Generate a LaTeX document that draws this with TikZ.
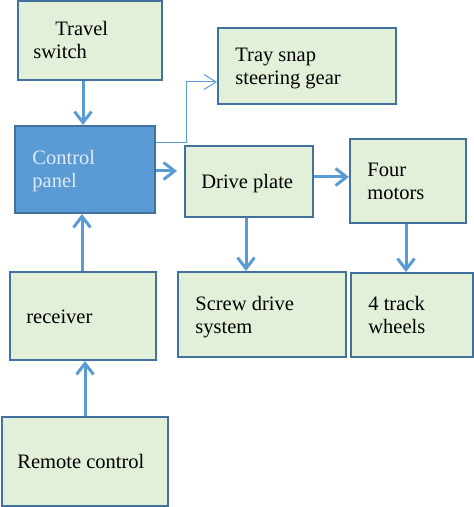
\documentclass[tikz,border=0pt]{standalone}
\usepackage{fontspec}
\setmainfont{Liberation Serif}
\usetikzlibrary{arrows.meta,calc}

\definecolor{boxfill}{HTML}{E2EFD9}
\definecolor{boxline}{HTML}{41719C}
\definecolor{panelfill}{HTML}{5B9BD5}
\definecolor{flowblue}{HTML}{5B9BD5}
\definecolor{paneltext}{HTML}{DEEBF7}

\tikzset{
  block/.style={draw=boxline, line width=1pt, fill=boxfill, inner sep=0pt},
  caption/.style={anchor=base west, align=left, inner sep=0pt,
    font=\fontsize{10.25}{11.5}\selectfont},
  flow/.style={draw=flowblue, line width=1.5pt,
    -{Straight Barb[length=5.5pt,width=8.5pt]}},
  thinflow/.style={draw=flowblue, line width=0.5pt,
    -{Straight Barb[length=6pt,width=7.5pt]}}
}

\begin{document}
\begin{tikzpicture}[x=0.5pt,y=-0.5pt]
            \useasboundingbox (0,0) rectangle (474,507);

            % boxes
            \node[block, minimum width=72pt, minimum height=39.5pt] (ts)   at (90,40.5)  {};
            \node[block, minimum width=89pt, minimum height=38pt]   (tray) at (307,66)   {};
            \node[block, fill=panelfill, minimum width=70pt, minimum height=43.5pt] (cp) at (85,169.5) {};
            \node[block, minimum width=64pt, minimum height=35.5pt] (dp)   at (249,181.5) {};
            \node[block, minimum width=58pt, minimum height=42pt]   (fm)   at (408,181)  {};
            \node[block, minimum width=84pt, minimum height=42.5pt] (sd)   at (262,314.5) {};
            \node[block, minimum width=61pt, minimum height=42pt]   (tw)   at (412,315)  {};
            \node[block, minimum width=73pt, minimum height=44pt]   (rc)   at (83,316)   {};
            \node[block, minimum width=83pt, minimum height=44.5pt] (rm)   at (85,461.5) {};

            % texts (base = last line)
            \node[caption] (ts-text)   at (33,59)   {\hspace{11pt}Travel\\switch};
            \node[caption] (tray-text) at (235,85)  {Tray snap\\steering gear};
            \node[caption, text=paneltext] (cp-text) at (32,188) {Control\\panel};
            \node[caption] (dp-text)   at (201,189) {Drive plate};
            \node[caption] (fm-text)   at (367,200) {Four\\motors};
            \node[caption] (sd-text)   at (195,333) {Screw drive\\system};
            \node[caption] (tw-text)   at (368,333) {4 track\\wheels};
            \node[caption] (rc-text)   at (26,323)  {receiver};
            \node[caption] (rm-text)   at (17,468)  {Remote control};

            % arrows
            \draw[flow] ($(ts.south)+(-7,0)$) -- ($(cp.north)+(-2,0)$);
            \draw[flow] ($(rc.north)+(-1,0)$) -- ($(cp.south)+(-3,0)$);
            \draw[flow] (rm.north) -- ($(rc.south)+(2,0)$);
            \draw[flow, shorten >=3.5pt] ($(cp.east)+(0,1.5)$) -- ($(dp.west)+(0,-10.5)$);
            \draw[thinflow] ($(cp.north east)+(0,18)$) -| ($(tray.west)+(-31,16)$) -- ($(tray.west)+(0,16)$);
            \draw[flow] ($(dp.east)+(0,-4.5)$) -- ($(fm.west)+(0,-4)$);
            \draw[flow] ($(dp.south)+(-3,0)$) -- ($(sd.north)+(-16,0)$);
            \draw[flow] ($(fm.south)+(-2,0)$) -- ($(tw.north)+(-6,0)$);
        \end{tikzpicture}
\end{document}
